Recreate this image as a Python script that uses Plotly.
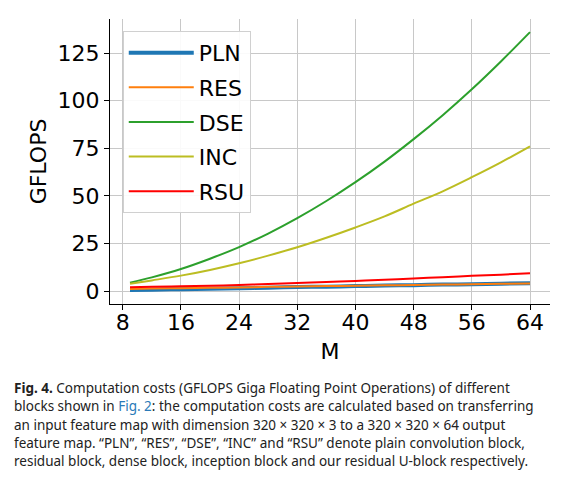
import plotly.graph_objects as go

# Channel count M (x axis) and GFLOPS
M = [9, 12, 16, 20, 24, 28, 32, 36, 40, 44, 48, 52, 56, 60, 64]

PLN = [0.5, 0.7, 1.0, 1.2, 1.5, 1.8, 2.1, 2.3, 2.6, 2.9, 3.1, 3.4, 3.6, 3.9, 4.1]
RES = [1.1, 1.3, 1.5, 1.7, 1.9, 2.2, 2.4, 2.6, 2.8, 3.0, 3.2, 3.4, 3.6, 3.8, 4.0]
DSE = [4.4, 7.2, 11.6, 17.0, 23.1, 30.2, 38.3, 47.3, 57.2, 68.0, 79.8, 92.4, 106.0, 120.6, 136.0]
INC = [3.8, 5.6, 8.1, 11.1, 14.6, 18.6, 23.0, 28.0, 33.4, 39.2, 45.9, 52.4, 59.8, 67.6, 76.0]
RSU = [2.0, 2.2, 2.5, 2.8, 3.2, 3.7, 4.2, 4.7, 5.3, 5.9, 6.6, 7.3, 8.0, 8.6, 9.3]

X_TICKS = [8, 16, 24, 32, 40, 48, 56, 64]
Y_TICKS = [0, 25, 50, 75, 100, 125]

CAPTION = [
    "<b>Fig. 4.</b> Computation costs (GFLOPS Giga Floating Point Operations) of different",
    "blocks shown in <span style='color:#2a7ab8'>Fig. 2</span>: the computation costs are calculated based on transferring",
    "an input feature map with dimension 320 × 320 × 3 to a 320 × 320 × 64 output",
    "feature map. “PLN”, “RES”, “DSE”, “INC” and “RSU” denote plain convolution block,",
    "residual block, dense block, inception block and our residual U-block respectively.",
]

series = [
    ("PLN", PLN, "#1f77b4", 4),
    ("RES", RES, "#ff7f0e", 2),
    ("DSE", DSE, "#2ca02c", 2),
    ("INC", INC, "#bcbd22", 2),
    ("RSU", RSU, "#ff0000", 2),
]

fig = go.Figure()
for name, vals, color, width in series:
    fig.add_trace(go.Scatter(
        x=M, y=vals, mode="lines", name=name,
        legendgroup=name,
        line=dict(color=color, width=width, shape="spline"),
    ))

axis_common = dict(
    showgrid=True, gridcolor="#c8c8c8", gridwidth=1,
    zeroline=False,
    showline=True, linecolor="black", linewidth=1,
    ticks="outside", ticklen=5, tickcolor="black",
    tickfont=dict(family="DejaVu Sans", size=22, color="black"),
    mirror=False, automargin=False,
)

fig.update_xaxes(range=[6.25, 66.75], tickvals=X_TICKS, ticklabelstandoff=-6,
                 title=dict(text="M", font=dict(size=22, color="black"), standoff=9),
                 **axis_common)
fig.update_yaxes(range=[-6.8, 142.9], tickvals=Y_TICKS,
                 title=dict(text="GFLOPS", font=dict(size=22, color="black"), standoff=4),
                 **axis_common)

for i, line in enumerate(CAPTION):
    fig.add_annotation(
        xref="paper", yref="paper", x=-0.222, y=-0.295 - i * 0.064,
        xanchor="left", yanchor="middle", showarrow=False,
        text=line, align="left",
        font=dict(family="Noto Sans", size=13.5, color="#222222"),
    )

fig.update_layout(
    width=580, height=478,
    margin=dict(l=102, r=38, t=11, b=182),
    plot_bgcolor="white", paper_bgcolor="white",
    font=dict(family="DejaVu Sans", size=22, color="black"),
    showlegend=True,
    legend=dict(
        x=0.029, y=0.958, xanchor="left", yanchor="top",
        bgcolor="rgba(255,255,255,0.9)", bordercolor="#d0d0d0", borderwidth=1,
        font=dict(family="DejaVu Sans", size=22), tracegroupgap=3, itemwidth=65,
    ),
)

fig.write_html("out.html")
